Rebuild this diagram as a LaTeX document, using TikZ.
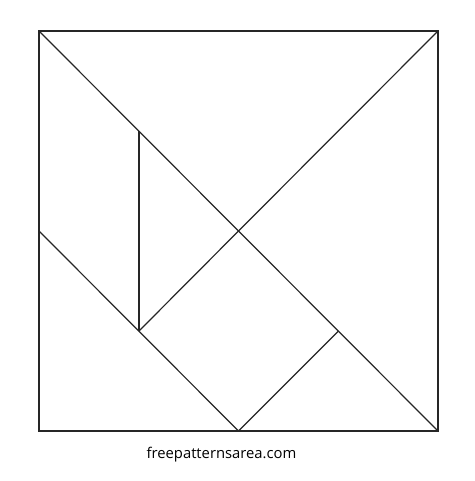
\documentclass[tikz,border=0pt]{standalone}
\usepackage{fontspec}
\setmainfont{Open Sans}
\begin{document}
\begin{tikzpicture}[x=1pt,y=-1pt,
  piece/.style={line width=1.2pt,draw=black!85,line join=miter},
  label/.style={font=\fontsize{14.8}{17}\selectfont,text=black,inner sep=0pt,anchor=base}]
\useasboundingbox (0,0) rectangle (474,481);
\coordinate (TL) at (39,31);
\coordinate (TR) at (438,31);
\coordinate (BR) at (438,431);
\coordinate (BL) at (39,431);
\coordinate (C) at (238.5,231);
\coordinate (LM) at (39,231);
\coordinate (BM) at (238.5,431);
\coordinate (P) at (139,131);
\coordinate (Q) at (139,331);
\coordinate (S) at (338.5,331);
\draw[piece] (TL) -- (TR) -- (BR) -- (BL) -- cycle;
\draw[piece] (TL) -- (BR);
\draw[piece] (TR) -- (C) -- (Q);
\draw[piece] (P) -- (Q);
\draw[piece] (LM) -- (BM) -- (S);
\node[label] (web) at (221.5,458) {freepatternsarea.com};
\end{tikzpicture}
\end{document}
